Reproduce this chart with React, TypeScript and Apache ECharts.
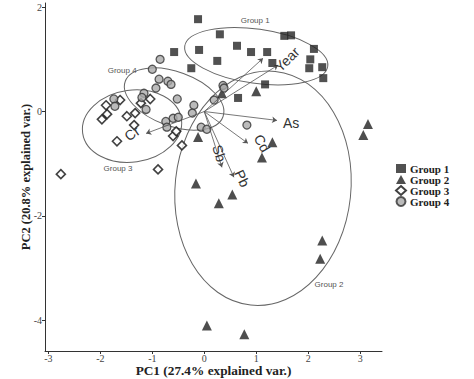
import React, { useEffect, useRef } from "react";
import * as echarts from "echarts";

const group1: number[][] = [
  [-0.12, 1.77], [0.3, 1.48], [-0.1, 1.18], [0.63, 1.26], [-0.58, 1.14], [0.25, 0.97],
  [-0.25, 0.83], [0.65, 0.26], [0.9, 1.14], [1.21, 1.14], [1.54, 1.45], [1.67, 1.46],
  [2.11, 1.2], [1.31, 0.93], [2.04, 1.0], [2.02, 0.83], [2.27, 0.85], [2.29, 0.64], [1.17, 0.52],
];
const group2: number[][] = [
  [1.0, 0.39], [0.34, 0.35], [3.15, -0.24], [3.06, -0.45], [-0.12, -0.49], [1.31, -0.59],
  [1.11, -0.88], [-0.16, -1.38], [0.28, -1.76], [0.54, -1.59], [2.27, -2.47], [2.23, -2.82],
  [0.05, -4.1], [0.77, -4.27],
];
const group3: number[][] = [
  [-2.76, -1.2], [-0.89, -1.11], [-1.68, -0.57], [-1.35, -0.26], [-1.49, -0.09], [-1.33, -0.03],
  [-1.97, -0.15], [-1.87, -0.05], [-1.89, 0.12], [-1.62, 0.22], [-1.22, 0.16], [-1.04, 0.24],
  [-0.6, -0.47], [-0.54, -0.38], [-0.43, -0.65],
];
const group4: number[][] = [
  [-0.85, 1.0], [-1.0, 0.81], [-0.87, 0.62], [-0.7, 0.58], [-0.64, 0.52], [-0.93, 0.45],
  [-1.16, 0.35], [-1.2, 0.27], [-1.74, 0.24], [-1.72, 0.1], [-1.12, 0.04], [-0.52, 0.24],
  [-0.2, 0.12], [-0.23, -0.03], [-0.74, -0.19], [-0.6, -0.13], [-0.5, -0.11], [-0.72, -0.3],
  [-0.06, -0.3], [0.05, -0.34], [0.19, 0.22], [0.36, 0.5], [0.38, 0.45], [0.82, -0.26],
];

// ellipse: [cx, cy, rx, ry, rotationDeg]
const ellipses: number[][] = [
  [1.0, 1.06, 1.39, 0.52, -8],
  [1.13, -1.47, 1.69, 2.25, -6],
  [-1.39, -0.28, 0.96, 0.69, 8],
  [-0.58, 0.24, 1.0, 0.52, -20],
];
const groupLabelNames = ["Group 1", "Group 2", "Group 3", "Group 4"];
const groupLabelPos: number[][] = [[0.98, 1.75], [2.4, -3.32], [-1.66, -1.09], [-1.58, 0.79]];

const loadingEnds: number[][] = [
  [1.13, 1.02], [1.42, 0.89], [1.4, -0.17], [0.84, -0.61], [0.34, -1.07], [0.57, -1.26], [-1.12, -0.42],
];
const varNames = ["Year", "As", "Cd", "Sb", "Pb", "Cr"];
// [x, y, rotationDeg]
const varLabelPos: number[][] = [
  [1.59, 1.0, 45], [1.67, -0.22, 0], [1.11, -0.61, -60], [0.29, -0.8, -72], [0.73, -1.28, -65], [-1.39, -0.42, 35],
];

const xTicks = [-3, -2, -1, 0, 1, 2, 3];
const yTicks = [-4, -2, 0, 2];

export default function App() {
  const ref = useRef<HTMLDivElement>(null);
  useEffect(() => {
    if (!ref.current) return;
    const chart = echarts.init(ref.current, null, { renderer: "svg" });
    const serif = "'Liberation Serif', 'DejaVu Serif', serif";
    const sans = "'Liberation Sans', Arial, sans-serif";
    chart.setOption({
      animation: false,
      backgroundColor: "#fff",
      grid: { left: 45, right: 92, top: 3, bottom: 28, outerBoundsMode: "none", containLabel: false },
      legend: {
        orient: "vertical",
        left: 390,
        top: 158,
        itemWidth: 10,
        itemHeight: 9,
        itemGap: 0,
        data: ["Group 1", "Group 2", "Group 3", "Group 4"],
        textStyle: { fontFamily: serif, fontWeight: "bold", fontSize: 11, lineHeight: 9, color: "#222", padding: [0, 0, 0, -1] },
      },
      xAxis: {
        type: "value",
        min: -3.065,
        max: 3.42,
        splitLine: { show: false },
        axisLine: { onZero: false, lineStyle: { color: "#333", width: 1 } },
        axisTick: { show: true, length: 3, customValues: xTicks, lineStyle: { color: "#333" } },
        axisLabel: { customValues: xTicks, fontFamily: serif, fontSize: 10, color: "#444", margin: 2 },
        name: "PC1 (27.4% explained var.)",
        nameLocation: "middle",
        nameGap: 13,
        nameMoveOverlap: false,
        nameTextStyle: { fontFamily: serif, fontWeight: "bold", fontSize: 13.3, color: "#222" },
      },
      yAxis: {
        type: "value",
        min: -4.59,
        max: 2.08,
        splitLine: { show: false },
        axisLine: { show: true, onZero: false, lineStyle: { color: "#333", width: 1 } },
        axisTick: { show: true, length: 3, customValues: yTicks, lineStyle: { color: "#333" } },
        axisLabel: { customValues: yTicks, fontFamily: serif, fontSize: 10, color: "#444", margin: 3 },
        name: "PC2 (20.8% explained var.)",
        nameLocation: "middle",
        nameGap: 13,
        nameMoveOverlap: false,
        nameTextStyle: { fontFamily: serif, fontWeight: "bold", fontSize: 12.5, color: "#222" },
      },
      series: [
        {
          type: "custom",
          name: "ellipses",
          silent: true,
          z: 1,
          encode: { x: 0, y: 1 },
          data: ellipses,
          renderItem: (params: any, api: any) => {
            const c = api.coord([api.value(0), api.value(1)]);
            const s = api.size([api.value(2), api.value(3)]);
            return {
              type: "ellipse",
              x: c[0],
              y: c[1],
              rotation: (api.value(4) * Math.PI) / 180,
              shape: { cx: 0, cy: 0, rx: s[0], ry: s[1] },
              style: { fill: "none", stroke: "#666", lineWidth: 1 },
            };
          },
        },
        {
          type: "custom",
          name: "groupLabels",
          silent: true,
          z: 5,
          encode: { x: 0, y: 1 },
          data: groupLabelPos,
          renderItem: (params: any, api: any) => {
            const c = api.coord([api.value(0), api.value(1)]);
            return {
              type: "text",
              x: c[0],
              y: c[1],
              style: {
                text: groupLabelNames[params.dataIndex],
                fontFamily: sans,
                fontSize: 8,
                fill: "#555",
                align: "center",
                verticalAlign: "middle",
              },
            };
          },
        },
        {
          type: "scatter",
          name: "Group 1",
          symbol: "rect",
          symbolSize: 8,
          z: 3,
          itemStyle: { color: "#262626" },
          data: group1,
        },
        {
          type: "scatter",
          name: "Group 2",
          symbol: "triangle",
          symbolSize: 10,
          z: 3,
          itemStyle: { color: "#222" },
          data: group2,
        },
        {
          type: "scatter",
          name: "Group 3",
          symbol: "diamond",
          symbolSize: 9,
          z: 3,
          itemStyle: { color: "#fff", borderColor: "#111", borderWidth: 1.6 },
          data: group3,
        },
        {
          type: "scatter",
          name: "Group 4",
          symbol: "circle",
          symbolSize: 8,
          z: 3,
          itemStyle: { color: "#aaa", borderColor: "#333", borderWidth: 1.3 },
          data: group4,
        },
        {
          type: "lines",
          name: "loadings",
          coordinateSystem: "cartesian2d",
          silent: true,
          z: 4,
          symbol: ["none", "arrow"],
          symbolSize: 5,
          lineStyle: { color: "#555", width: 0.8, opacity: 1 },
          data: loadingEnds.map((e) => ({ coords: [[0, 0], e] })),
        },
        {
          type: "custom",
          name: "varLabels",
          silent: true,
          z: 6,
          encode: { x: 0, y: 1 },
          data: varLabelPos,
          renderItem: (params: any, api: any) => {
            const c = api.coord([api.value(0), api.value(1)]);
            return {
              type: "text",
              x: c[0],
              y: c[1],
              rotation: (api.value(2) * Math.PI) / 180,
              style: {
                text: varNames[params.dataIndex],
                fontFamily: sans,
                fontSize: 14,
                fill: "#333",
                align: "center",
                verticalAlign: "middle",
              },
            };
          },
        },
      ],
    });
    return () => chart.dispose();
  }, []);
  return <div ref={ref} style={{ position: "fixed", left: 0, top: 0, width: 474, height: 379 }} />;
}
